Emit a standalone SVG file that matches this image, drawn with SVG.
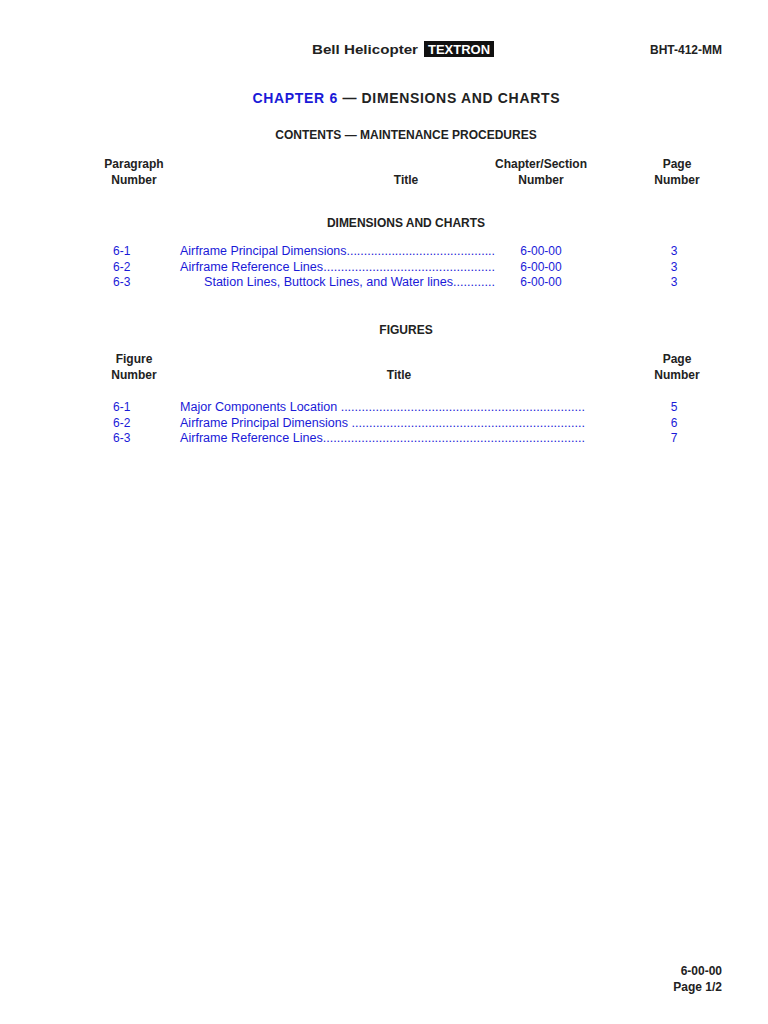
<svg xmlns="http://www.w3.org/2000/svg" width="768" height="1024" viewBox="0 0 768 1024">
<style>
text{font-family:"Liberation Sans",Arial,sans-serif;font-size:12px;fill:#222}
.b{font-weight:bold}
.l{fill:#1a1ad8}
.c{text-anchor:middle}
.r{text-anchor:end}
</style>
<rect width="768" height="1024" fill="#fff"/>
<text x="312" y="54" class="b" style="font-size:13px" textLength="106" lengthAdjust="spacingAndGlyphs">Bell Helicopter</text>
<rect x="424" y="41" width="70" height="16" fill="#111"/>
<text x="459" y="54" class="b c" style="font-size:13px;fill:#fff">TEXTRON</text>
<text x="722" y="54" class="b r">BHT-412-MM</text>
<text x="406" y="103" class="b c" style="font-size:14px" textLength="307"><tspan class="l">CHAPTER 6</tspan> — DIMENSIONS AND CHARTS</text>
<text x="406" y="139" class="b c">CONTENTS — MAINTENANCE PROCEDURES</text>
<text x="134" y="168" class="b c">Paragraph</text>
<text x="134" y="184" class="b c">Number</text>
<text x="406" y="184" class="b c">Title</text>
<text x="541" y="168" class="b c">Chapter/Section</text>
<text x="541" y="184" class="b c">Number</text>
<text x="677" y="168" class="b c">Page</text>
<text x="677" y="184" class="b c">Number</text>
<text x="406" y="227" class="b c">DIMENSIONS AND CHARTS</text>
<g class="l">
<text x="113" y="255" class="l">6-1</text>
<text x="180" y="255" class="l" textLength="315" lengthAdjust="spacingAndGlyphs">Airframe Principal Dimensions...........................................</text>
<text x="541" y="255" class="l c">6-00-00</text>
<text x="674" y="255" class="l c">3</text>
<text x="113" y="271" class="l">6-2</text>
<text x="180" y="271" class="l" textLength="315" lengthAdjust="spacingAndGlyphs">Airframe Reference Lines.................................................</text>
<text x="541" y="271" class="l c">6-00-00</text>
<text x="674" y="271" class="l c">3</text>
<text x="113" y="286" class="l">6-3</text>
<text x="204" y="286" class="l" textLength="291" lengthAdjust="spacingAndGlyphs">Station Lines, Buttock Lines, and Water lines............</text>
<text x="541" y="286" class="l c">6-00-00</text>
<text x="674" y="286" class="l c">3</text>
</g>
<text x="406" y="334" class="b c">FIGURES</text>
<text x="134" y="363" class="b c">Figure</text>
<text x="134" y="379" class="b c">Number</text>
<text x="399" y="379" class="b c">Title</text>
<text x="677" y="363" class="b c">Page</text>
<text x="677" y="379" class="b c">Number</text>
<g>
<text x="113" y="411" class="l">6-1</text>
<text x="180" y="411" class="l" textLength="405" lengthAdjust="spacingAndGlyphs">Major Components Location ......................................................................</text>
<text x="674" y="411" class="l c">5</text>
<text x="113" y="427" class="l">6-2</text>
<text x="180" y="427" class="l" textLength="405" lengthAdjust="spacingAndGlyphs">Airframe Principal Dimensions ...................................................................</text>
<text x="674" y="427" class="l c">6</text>
<text x="113" y="442" class="l">6-3</text>
<text x="180" y="442" class="l" textLength="405" lengthAdjust="spacingAndGlyphs">Airframe Reference Lines...........................................................................</text>
<text x="674" y="442" class="l c">7</text>
</g>
<text x="722" y="975" class="b r">6-00-00</text>
<text x="722" y="991" class="b r">Page 1/2</text>
</svg>
